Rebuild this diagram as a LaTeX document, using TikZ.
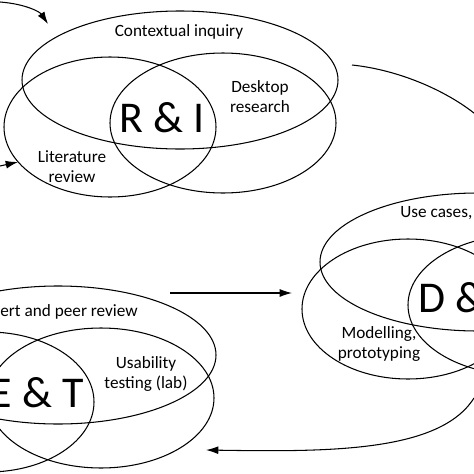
\documentclass[tikz,border=0pt]{standalone}
\usepackage{fontspec}
\setmainfont{Carlito}
\usetikzlibrary{arrows.meta}

\begin{document}
\begin{tikzpicture}[x=0.02cm,y=-0.02cm,>={Latex[length=7pt,width=4.5pt]},
    venn/.style={line width=0.6pt},
    flow/.style={line width=0.6pt},
    lbl/.style={align=center,font=\fontsize{9.8}{11.4}\selectfont,inner sep=0pt},
    big/.style={font=\fontsize{25}{30}\selectfont,inner sep=0pt}]
    \useasboundingbox (0,0) rectangle (474,474);
    \clip (0,0) rectangle (474,474);
    % the three phases share one Venn layout, shifted
    \foreach \dx/\dy in {0/0,298/182,-122/275}{
        \draw[venn] (180+\dx,80+\dy) ellipse [x radius=158,y radius=69];
        \draw[venn] (110+\dx,127+\dy) ellipse [x radius=106,y radius=70];
        \draw[venn] (223+\dx,123+\dy) ellipse [x radius=113,y radius=70];
    }
    % R & I
    \node[lbl] (ctx) at (179,32) {Contextual inquiry};
    \node[lbl] (desk) at (260,97) {Desktop\\research};
    \node[big] (ri) at (162,118) {R \& I};
    \node[lbl] (lit) at (72,167) {Literature\\review};
    % D & ...
    \node[lbl,anchor=west] (use) at (400,213) {Use cases,};
    \node[big,anchor=west] (dd) at (418,298) {D \&};
    \node[lbl] (model) at (379,344) {Modelling,\\prototyping};
    % E & T
    \node[lbl,anchor=west] (peer) at (0,312) {ert and peer review};
    \node[big,anchor=east] (et) at (84,393) {E \& T};
    \node[lbl] (usab) at (146,374) {Usability\\testing (lab)};
    % flow between phases
    \coordinate (inA) at (0,2);
    \coordinate (inAend) at (48,24);
    \coordinate (inB) at (0,166);
    \coordinate (inBend) at (18,162);
    \coordinate (outR) at (352,65);
    \coordinate (outRend) at (480,118);
    \coordinate (etOut) at (170,293);
    \coordinate (ddIn) at (292,293);
    \coordinate (ddOut) at (474,398);
    \coordinate (etIn) at (206,450);
    \draw[flow,->] (inA) .. controls (26,4) and (40,12) .. (inAend);
    \draw[flow,->] (inB) -- (inBend);
    \draw[flow] (outR) .. controls (400,70) and (450,92) .. (outRend);
    \draw[flow,->] (etOut) -- (ddIn);
    \draw[flow,->] (ddOut) .. controls (440,452) and (330,452) .. (etIn);
\end{tikzpicture}
\end{document}
